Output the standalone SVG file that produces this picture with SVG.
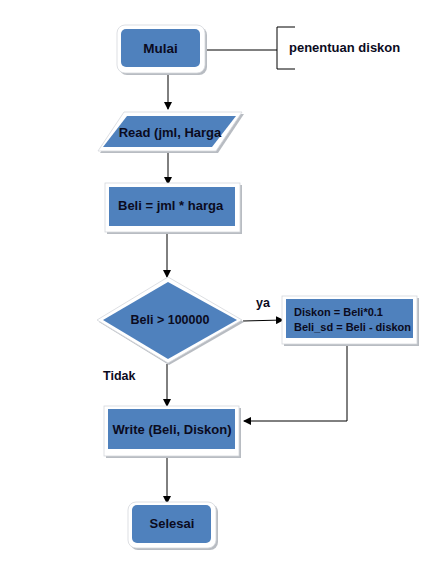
<svg xmlns="http://www.w3.org/2000/svg" width="446" height="563" viewBox="0 0 446 563">
<defs>
<marker id="arr" markerWidth="8" markerHeight="8" refX="7" refY="4" orient="auto" markerUnits="userSpaceOnUse">
<path d="M0,0 L8,4 L0,8 Z" fill="#000"/>
</marker>
<style>
.sh{fill:#b8bcc2}
.wb{fill:#fff;stroke:#d4d7dc;stroke-width:0.8}
.bl{fill:#4f81bd}
.t{font-family:"Liberation Sans",Arial,sans-serif;font-weight:bold;font-size:13px;fill:#0b0b1e}
.ln{stroke:#000;stroke-width:1;fill:none}
</style>
</defs>
<rect width="446" height="563" fill="#fff"/>
<g id="connectors">
<path class="ln" d="M207,50 L277,50"/>
<path class="ln" d="M295,27 L277,27 L277,69 L295,69"/>
<path class="ln" d="M168,74 L168,109" marker-end="url(#arr)"/>
<path class="ln" d="M168,150 L168,184" marker-end="url(#arr)"/>
<path class="ln" d="M167,233 L167,277" marker-end="url(#arr)"/>
<path class="ln" d="M243,321 L283,320" marker-end="url(#arr)"/>
<path class="ln" d="M347,345 L347,421 L244,421" marker-end="url(#arr)"/>
<path class="ln" d="M167,364 L167,406" marker-end="url(#arr)"/>
<path class="ln" d="M167,457 L167,503" marker-end="url(#arr)"/>
</g>
<g id="mulai">
<rect class="sh" x="119" y="27" width="88" height="48" rx="8"/>
<rect class="wb" x="117" y="25" width="88" height="48" rx="8"/>
<rect class="bl" x="121" y="29" width="79" height="38" rx="5"/>
<text class="t" x="160.5" y="53" text-anchor="middle" style="font-size:13.5px">Mulai</text>
</g>
<g id="penentuan">
<text class="t" x="289" y="52">penentuan diskon</text>
</g>
<g id="read">
<polygon class="sh" points="126,114 244,114 218,153 100,153"/>
<polygon class="wb" points="124,112 242,112 216,151 98,151"/>
<polygon class="bl" points="127,116 236,116 212,147 103,147"/>
<text class="t" x="170" y="137" text-anchor="middle">Read (jml, Harga</text>
</g>
<g id="beli">
<rect class="sh" x="107" y="185" width="135" height="49"/>
<rect class="wb" x="105" y="183" width="135" height="49"/>
<rect class="bl" x="109" y="187" width="126" height="39"/>
<text class="t" x="118" y="210">Beli = jml * harga</text>
</g>
<g id="decision">
<polygon class="sh" points="169,279 244,322 169,365 99,322"/>
<polygon class="wb" points="168,277 242,320 168,363 97,320"/>
<polygon class="bl" points="168,282 237,320 168,359 103,320"/>
<text class="t" x="170" y="324" text-anchor="middle" style="font-size:12.5px">Beli &gt; 100000</text>
</g>
<g id="ya">
<text class="t" x="256" y="307" style="font-size:12.5px">ya</text>
</g>
<g id="diskon">
<rect class="sh" x="284" y="298" width="135" height="48"/>
<rect class="wb" x="282" y="296" width="135" height="48"/>
<rect class="bl" x="286" y="299" width="127" height="39"/>
<text class="t" x="294" y="316" style="font-size:11px">Diskon = Beli*0.1</text>
<text class="t" x="294" y="331" style="font-size:11px">Beli_sd = Beli - diskon</text>
</g>
<g id="tidak">
<text class="t" x="103" y="380" style="font-size:12.5px">Tidak</text>
</g>
<g id="write">
<rect class="sh" x="106" y="408" width="135" height="50"/>
<rect class="wb" x="104" y="406" width="135" height="50"/>
<rect class="bl" x="108" y="409" width="127" height="40"/>
<text class="t" x="172" y="434" text-anchor="middle">Write (Beli, Diskon)</text>
</g>
<g id="selesai">
<rect class="sh" x="130" y="504" width="88" height="46" rx="8"/>
<rect class="wb" x="128" y="502" width="88" height="46" rx="8"/>
<rect class="bl" x="132" y="505" width="79" height="38" rx="5"/>
<text class="t" x="172" y="528" text-anchor="middle">Selesai</text>
</g>
</svg>
